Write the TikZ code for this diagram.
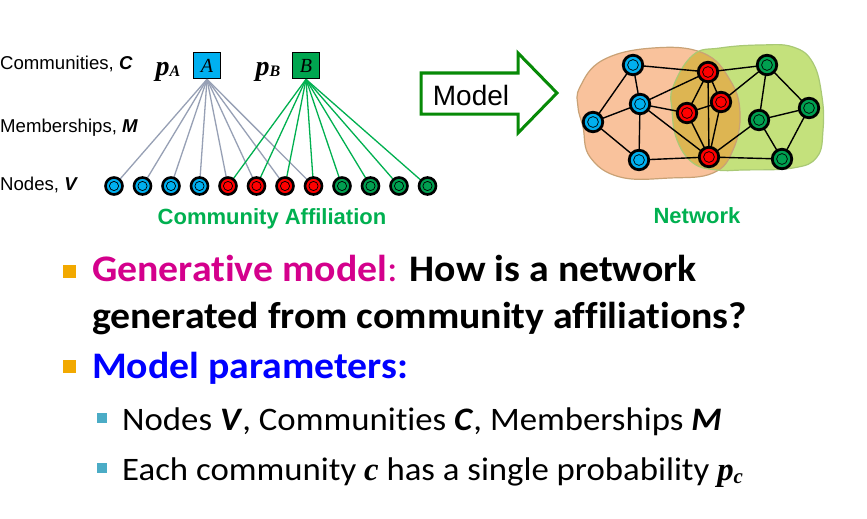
\documentclass[tikz,border=0pt]{standalone}
\usepackage{fontspec}
\setmainfont[Ligatures=NoCommon, FakeStretch=1.06]{Carlito}
\newfontfamily\arialf{Liberation Sans}
\newfontfamily\tnrf{Liberation Serif}
\definecolor{nblue}{HTML}{00B0F0}
\definecolor{nred}{HTML}{FF0000}
\definecolor{ngreen}{HTML}{00A050}
\definecolor{boxgreen}{HTML}{00A650}
\definecolor{lgray}{HTML}{97A0B5}
\definecolor{lgreen}{HTML}{00B050}
\definecolor{txtgreen}{HTML}{00B050}
\definecolor{arrgreen}{HTML}{078A07}
\definecolor{magen}{HTML}{D4008C}
\definecolor{pblue}{HTML}{0000FF}
\definecolor{bulorange}{HTML}{F2A900}
\definecolor{bulblue}{HTML}{4BACC6}
\definecolor{orblob}{HTML}{F9C29C}
\definecolor{orborder}{HTML}{C9A276}
\definecolor{grblob}{HTML}{C4E17C}
\definecolor{grborder}{HTML}{A9C975}
\definecolor{overlap}{HTML}{DDB552}
\tikzset{
  vnode/.style={circle, minimum size=17pt, inner sep=0pt, line width=2.6pt, draw=black, fill=#1,
    path picture={\draw[black, line width=0.7pt] (path picture bounding box.center) circle (4.6pt);}},
  gnode/.style={circle, minimum size=19.5pt, inner sep=0pt, line width=2.8pt, draw=black, fill=#1,
    path picture={\draw[black, line width=0.7pt] (path picture bounding box.center) circle (5.4pt);}},
  combox/.style={draw=black, line width=1.6pt, fill=#1, minimum width=27pt, minimum height=26pt, inner sep=0pt,
    font=\fontsize{20}{20}\selectfont\tnrf\itshape},
  lbl/.style={anchor=west, inner sep=0pt, font=\fontsize{18.6}{19}\selectfont\arialf},
  glink/.style={lgray, line width=1.3pt},
  grlink/.style={lgreen, line width=1.3pt},
  nedge/.style={black, line width=1.4pt},
  bigtxt/.style={anchor=base west, inner sep=0pt, font=\fontsize{37.5}{38}\selectfont\bfseries},
  subtxt/.style={anchor=base west, inner sep=0pt, font=\fontsize{32.8}{33}\selectfont},
  bul/.style={fill=bulorange, minimum size=13pt, inner sep=0pt},
  subbul/.style={fill=bulblue, minimum size=9.5pt, inner sep=0pt},
  captxt/.style={inner sep=0pt, anchor=base, text=txtgreen, font=\fontsize{22}{22}\selectfont\arialf\bfseries},
}
\begin{document}
\begin{tikzpicture}[x=1pt,y=-1pt]
\useasboundingbox (0,0) rectangle (867,519);
\fill[white] (0,0) rectangle (867,519);
% labels
\node[lbl] (lc) at (0,64) {Communities, \textbf{\textit{C}}};
\node[lbl] (lm) at (0,128) {Memberships, \textbf{\textit{M}}};
\node[lbl] (lv) at (0,185) {Nodes, \textbf{\textit{V}}};
% community boxes
\node[combox=nblue] (A) at (207,65.5) {A};
\node[combox=boxgreen] (B) at (306,65.5) {B};
\node[anchor=base, inner sep=0pt, font=\fontsize{28}{28}\selectfont\tnrf\bfseries\itshape] (pA) at (168,75) {p\raisebox{-0.15ex}{\fontsize{16}{16}\selectfont A}};
\node[anchor=base, inner sep=0pt, font=\fontsize{28}{28}\selectfont\tnrf\bfseries\itshape] (pB) at (268,75) {p\raisebox{-0.15ex}{\fontsize{16}{16}\selectfont B}};
% affiliation nodes
\foreach \i/\c in {1/nblue,2/nblue,3/nblue,4/nblue,5/nred,6/nred,7/nred,8/nred,9/ngreen,10/ngreen,11/ngreen,12/ngreen}{
  \coordinate (c\i) at ({114+28.5*(\i-1)},186);
}
\foreach \i in {1,...,8}{\draw[glink] (A.south) -- (c\i);}
\foreach \i in {5,...,12}{\draw[grlink] (B.south) -- (c\i);}
\foreach \i/\c in {1/nblue,2/nblue,3/nblue,4/nblue,5/nred,6/nred,7/nred,8/nred,9/ngreen,10/ngreen,11/ngreen,12/ngreen}{
  \node[vnode=\c] (v\i) at (c\i) {};
}
\node[captxt] (ca) at (272,224) {Community Affiliation};
% model arrow
\draw[arrgreen, line width=3pt, fill=white, line join=miter] (421,73) -- (518,73) -- (518,53) -- (557,93) -- (518,133) -- (518,114) -- (421,114) -- cycle;
\node[inner sep=0pt, font=\fontsize{28}{28}\selectfont\arialf] (model) at (471,95) {Model};
% blobs
\def\orpath{plot[smooth cycle, tension=0.7] coordinates {(580,87) (603,60) (653,48) (703,53) (730,80) (740,113) (733,150) (713,173) (670,178) (620,177) (590,157) (583,127) (578,107)}}
\def\grpath{plot[smooth cycle, tension=0.7] coordinates {(673,87) (693,55) (720,48) (760,45) (793,47) (813,63) (822,97) (823,130) (817,157) (793,168) (743,170) (717,170) (693,163) (677,140) (672,110)}}
\fill[orblob] \orpath;
\fill[grblob] \grpath;
\begin{scope}
\clip \orpath;
\fill[overlap] \grpath;
\end{scope}
\draw[orborder, line width=1.2pt] \orpath;
\draw[grborder, line width=1.2pt] \grpath;
% network nodes
\coordinate (b1) at (633,65);
\coordinate (b2) at (640,104);
\coordinate (b3) at (593,122);
\coordinate (b4) at (639,160);
\coordinate (r1) at (708,72);
\coordinate (r2) at (721,102);
\coordinate (r3) at (687,113);
\coordinate (r4) at (709,157);
\coordinate (g1) at (767,65);
\coordinate (g2) at (809,108);
\coordinate (g3) at (759,120);
\coordinate (g4) at (782,159);
\foreach \a/\b in {b1/r1,b1/b3,b1/b2,b2/b3,b2/r1,b2/r3,b2/b4,b2/r4,b3/b4,b4/r4,r1/r3,r1/r2,r1/r4,r1/g1,r2/r3,r2/g1,r2/r4,r3/r4,r4/g3,r4/g4,g1/g3,g1/g2,g3/g2,g3/g4,g2/g4}{
  \draw[nedge] (\a) -- (\b);
}
\foreach \n/\c in {b1/nblue,b2/nblue,b3/nblue,b4/nblue,r1/nred,r2/nred,r3/nred,r4/nred,g1/ngreen,g2/ngreen,g3/ngreen,g4/ngreen}{
  \node[gnode=\c] (N\n) at (\n) {};
}
\node[captxt] (net) at (697,223) {Network};
% bullets
\node[bul] (bu1) at (69,271) {};
\node[bigtxt] (t1) at (92,281) {\textcolor{magen}{Generative model}\textcolor{magen}{\mdseries:} How is a network};
\node[bigtxt] (t2) at (92,328) {generated from community affiliations?};
\node[bul] (bu2) at (69,366) {};
\node[bigtxt, text=pblue] (t3) at (92,378) {Model parameters:};
\node[subbul] (sb1) at (102,418) {};
\node[subtxt] (t4) at (122,430) {Nodes \textbf{\textit{V}}, Communities \textbf{\textit{C}}, Memberships \textbf{\textit{M}}};
\node[subbul] (sb2) at (102,468) {};
\node[subtxt] (t5) at (122,480) {Each community {\tnrf\bfseries\itshape c} has a single probability {\tnrf\bfseries\itshape p\raisebox{-0.25ex}{\fontsize{21}{21}\selectfont c}}};
\end{tikzpicture}
\end{document}
